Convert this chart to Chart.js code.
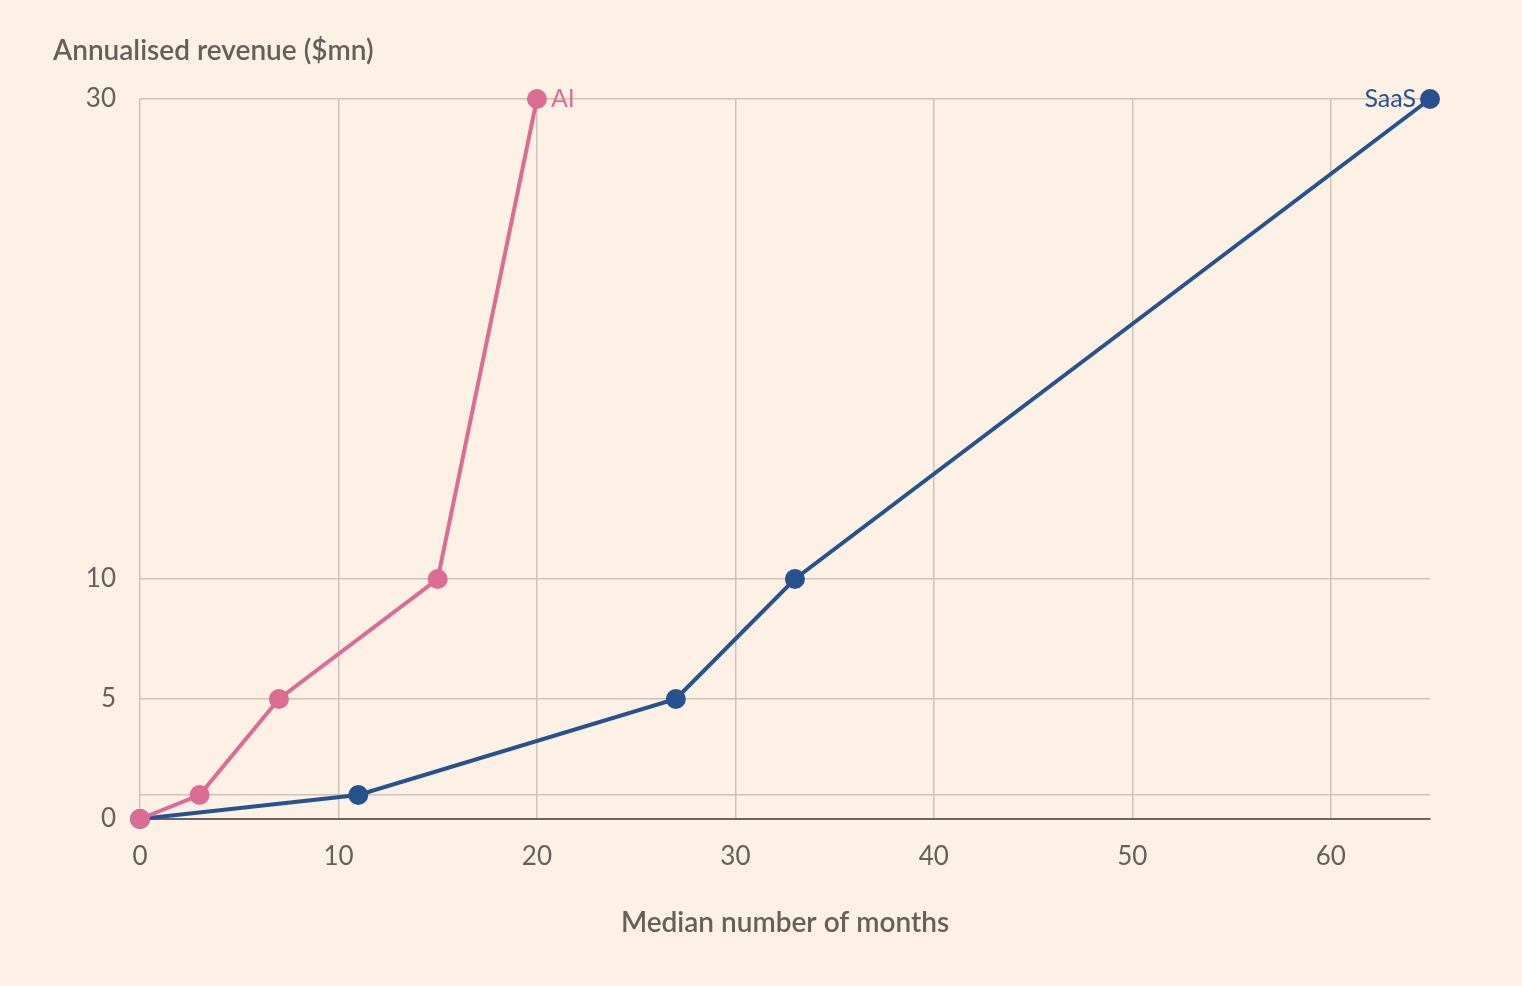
<!DOCTYPE html>
<html><head><meta charset="utf-8">
<script src="https://cdn.jsdelivr.net/npm/chart.js@4"></script>
<style>
html,body{margin:0;padding:0;background:#fdf1e5;}
#wrap{position:relative;width:1522px;height:986px;}
#ttl{position:absolute;left:53px;top:32px;font:600 28px Lato,"Open Sans",sans-serif;color:#66605c;}
</style></head><body>
<div id="wrap"><div id="ttl">Annualised revenue ($mn)</div><canvas id="c" width="1522" height="986"></canvas></div>
<script>
const aiMonths=[0,3,7,15,20];
const aiRevenue=[0,1,5,10,30];
const saasMonths=[0,11,27,33,65];
const saasRevenue=[0,1,5,10,30];
const yTicks=[0,1,5,10,30];
const yLabelled=[0,5,10,30];
const xTicks=[0,10,20,30,40,50,60];
const seriesNames=['AI','SaaS'];
const font={family:'Lato, "Open Sans", sans-serif',size:26};
const txt='#66605c';
const labels={id:'lbl',afterDatasetsDraw(ch){const c=ch.ctx;c.save();c.font='25px Lato, "Open Sans", sans-serif';c.textBaseline='middle';
 ch.data.datasets.forEach((d,i)=>{const m=ch.getDatasetMeta(i);const p=m.data[m.data.length-1];c.fillStyle=d.borderColor;
 if(i===0){c.textAlign='left';c.fillText(seriesNames[0],p.x+14,p.y);}else{c.textAlign='right';c.fillText(seriesNames[1],p.x-14,p.y);}});c.restore();}};
new Chart(document.getElementById('c'),{type:'line',
data:{datasets:[
{label:seriesNames[0],data:aiMonths.map((x,i)=>({x,y:aiRevenue[i]})),borderColor:'#dc6c93',backgroundColor:'#dc6c93',borderWidth:4,pointRadius:8,pointHoverRadius:8,clip:false},
{label:seriesNames[1],data:saasMonths.map((x,i)=>({x,y:saasRevenue[i]})),borderColor:'#26528f',backgroundColor:'#26528f',borderWidth:4,pointRadius:8,pointHoverRadius:8,clip:false}]},
options:{responsive:false,animation:false,layout:{padding:{top:99,right:92,left:0,bottom:42}},
plugins:{legend:{display:false},tooltip:{enabled:false}},
scales:{
x:{type:'linear',min:0,max:65,afterBuildTicks:a=>{a.ticks=xTicks.map(v=>({value:v}));},
 grid:{color:'#cdc3ba',lineWidth:1.5,drawTicks:false},border:{color:'#6b6560',width:2},
 ticks:{color:txt,font,padding:22},
 title:{display:true,text:'Median number of months',color:txt,font:{family:font.family,size:28,weight:'600'},padding:{top:26}},
 afterFit:a=>{a.height=125;}},
y:{type:'linear',min:0,max:30,afterBuildTicks:a=>{a.ticks=yTicks.map(v=>({value:v}));},
 grid:{color:'#cdc3ba',lineWidth:1.5,drawTicks:false},border:{display:false},
 ticks:{color:txt,font,padding:24,callback:v=>yLabelled.includes(v)?String(v):''},
 afterFit:a=>{a.width=140;}}}},
plugins:[labels]});
</script></body></html>
